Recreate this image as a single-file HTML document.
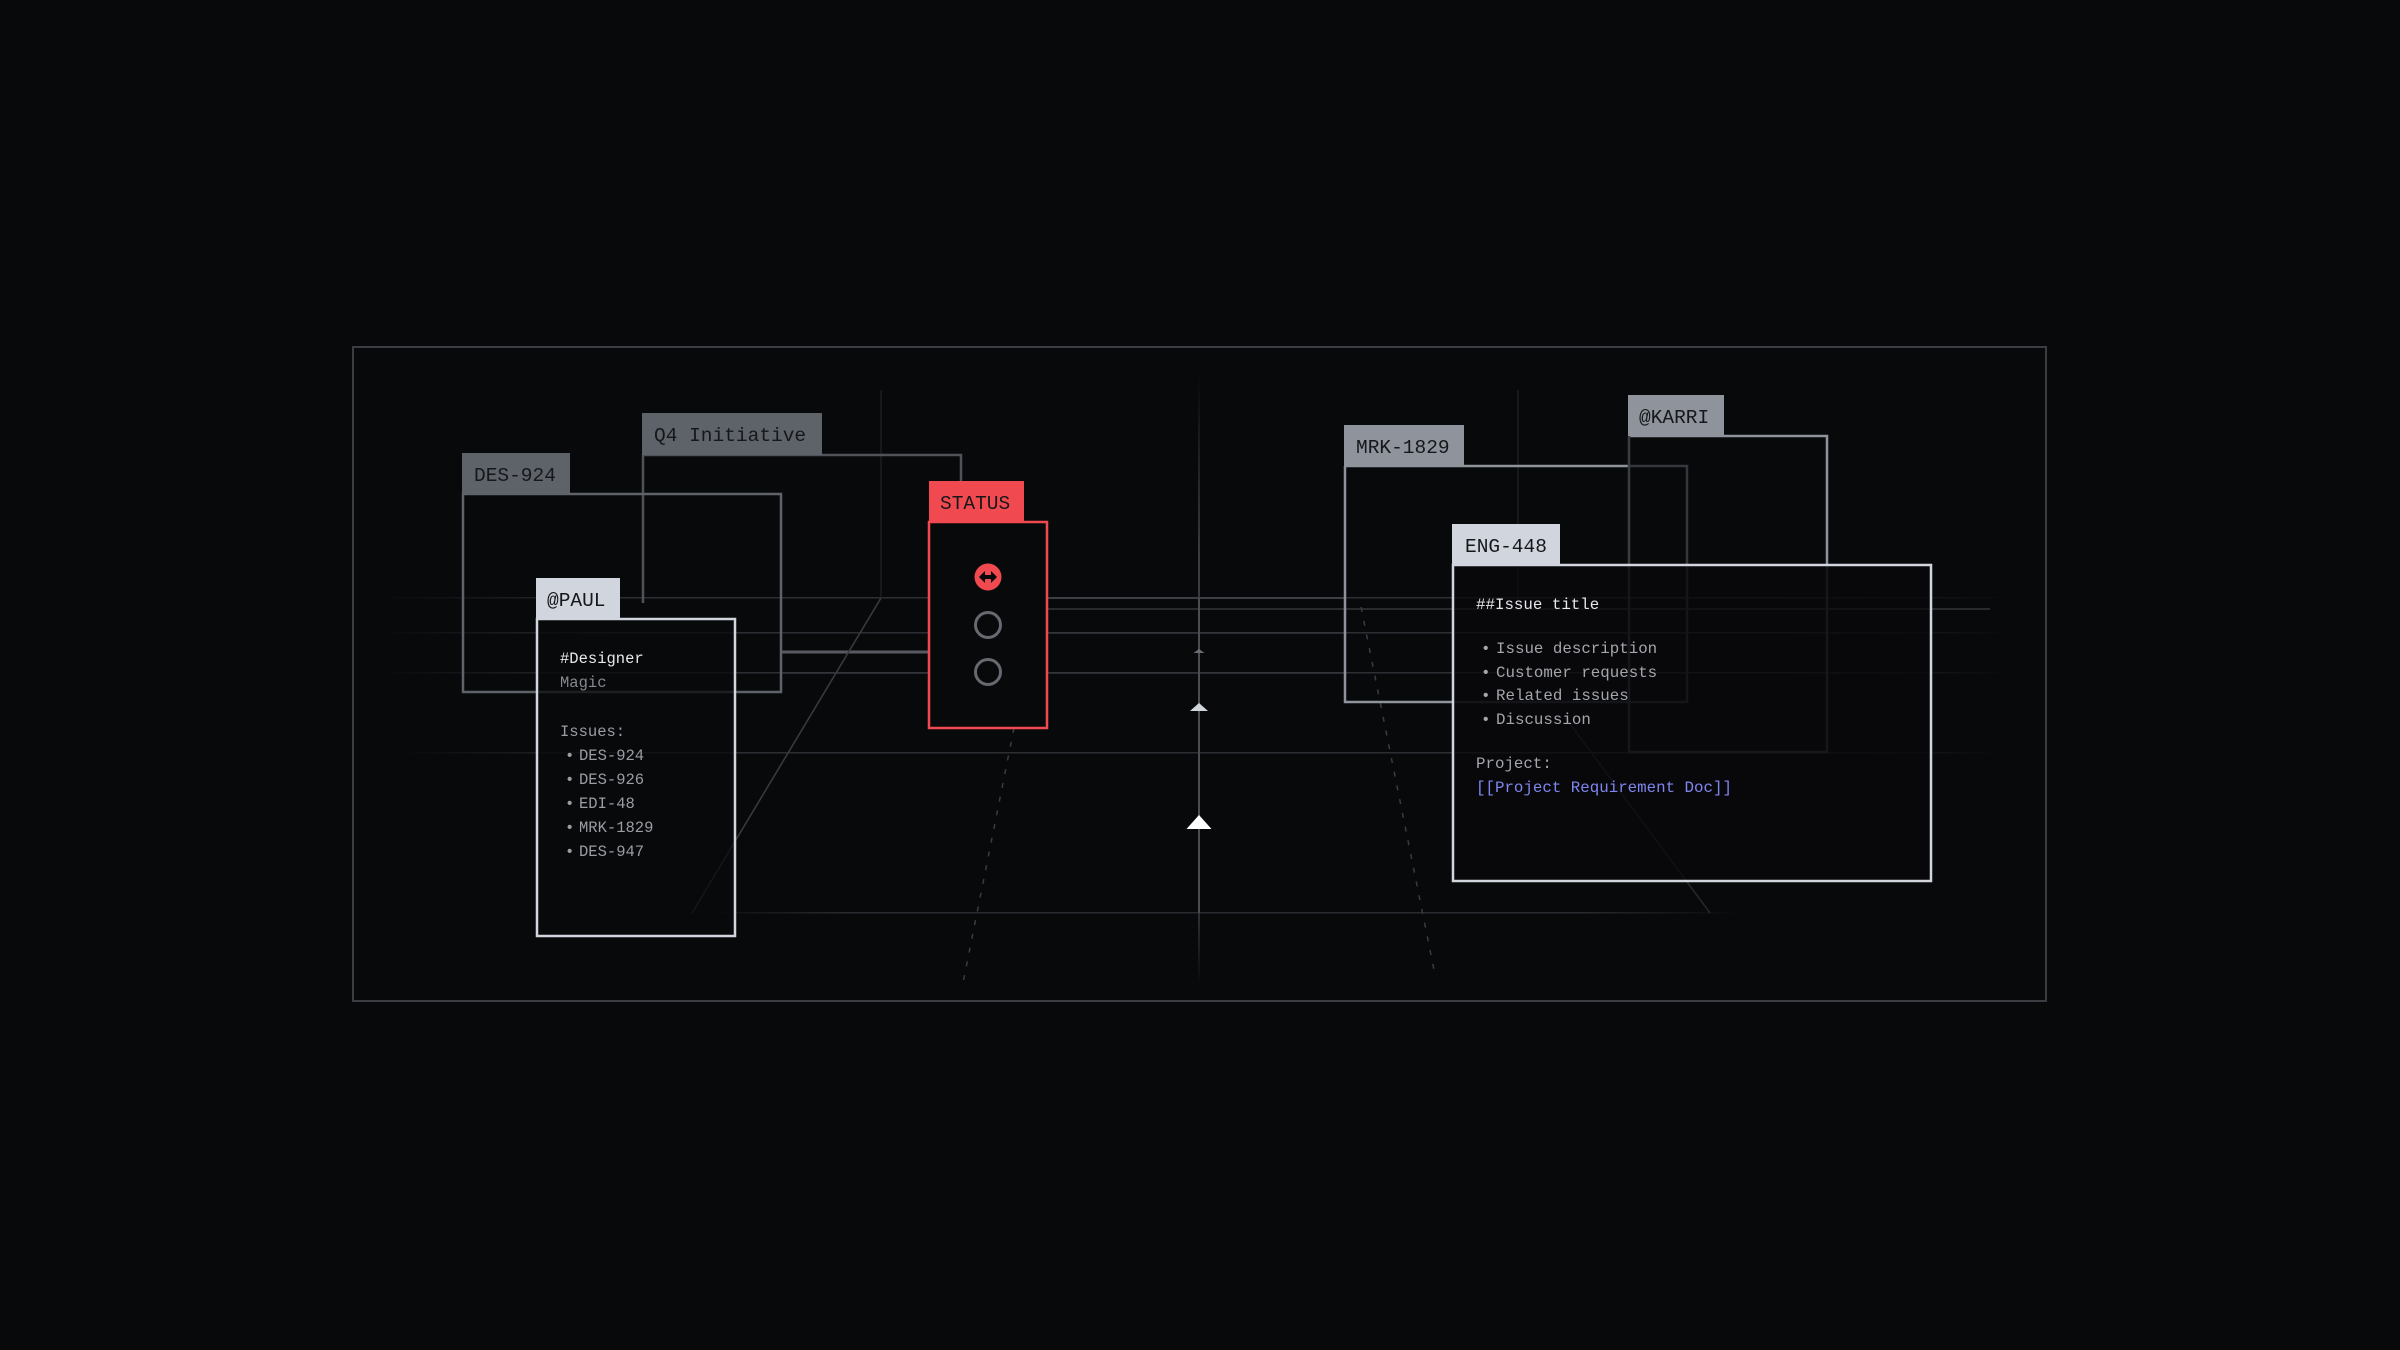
<!DOCTYPE html>
<html><head><meta charset="utf-8"><style>
html,body{margin:0;padding:0;background:#08090b;}
svg{display:block;}
text{font-family:"Liberation Mono",monospace;}
</style></head><body>
<svg width="2400" height="1350" viewBox="0 0 2400 1350" xmlns="http://www.w3.org/2000/svg">
<defs>
<linearGradient id="hf" x1="0" x2="1" y1="0" y2="0">
<stop offset="0" stop-color="#2c2e33" stop-opacity="0"/>
<stop offset="0.15" stop-color="#2c2e33"/>
<stop offset="0.85" stop-color="#2c2e33"/>
<stop offset="1" stop-color="#2c2e33" stop-opacity="0"/>
</linearGradient>
<linearGradient id="vf" x1="0" x2="0" y1="0" y2="1">
<stop offset="0" stop-color="#3a3c41" stop-opacity="0"/>
<stop offset="0.3" stop-color="#3a3c41"/>
<stop offset="0.85" stop-color="#3a3c41"/>
<stop offset="1" stop-color="#3a3c41" stop-opacity="0"/>
</linearGradient>
</defs>
<rect width="2400" height="1350" fill="#08090b"/>
<rect x="353" y="347" width="1693" height="654" fill="none" stroke="#3b3d42" stroke-width="2"/>

<rect x="380" y="597" width="1630" height="1.5" fill="url(#hf)"/>
<rect x="380" y="632" width="1630" height="1.5" fill="url(#hf)"/>
<rect x="380" y="672" width="1630" height="1.5" fill="url(#hf)"/>
<rect x="400" y="752" width="1600" height="1.5" fill="url(#hf)"/>
<rect x="690" y="912" width="1050" height="1.5" fill="url(#hf)" opacity="0.9"/>
<line x1="1047" y1="598" x2="1344" y2="598" stroke="#3c3f44" stroke-width="2"/>
<line x1="1047" y1="609" x2="1990" y2="609" stroke="#33363b" stroke-width="1.5"/>
<line x1="1047" y1="633" x2="1344" y2="633" stroke="#34373c" stroke-width="1.5"/>
<line x1="1047" y1="673" x2="1344" y2="673" stroke="#34373c" stroke-width="1.5"/>
<line x1="781" y1="673" x2="929" y2="673" stroke="#34373c" stroke-width="1.5"/>
<line x1="781" y1="652" x2="929" y2="652" stroke="#575a60" stroke-width="3"/>
<line x1="881" y1="390" x2="881" y2="598" stroke="#1c1e21" stroke-width="1.5"/>
<line x1="1518" y1="390" x2="1518" y2="600" stroke="#1c1e21" stroke-width="1.5"/>
<line x1="881" y1="598" x2="692" y2="913" stroke="#3a3c41" stroke-width="1.5"/>
<line x1="1565" y1="717" x2="1710" y2="913" stroke="#26282c" stroke-width="1.5"/>
<line x1="1014" y1="728" x2="963" y2="983" stroke="#3a3c41" stroke-width="1.5" stroke-dasharray="5 9"/>
<line x1="1361" y1="607" x2="1434" y2="970" stroke="#3a3c41" stroke-width="1.5" stroke-dasharray="5 9"/>
<rect x="1198" y="375" width="2" height="610" fill="url(#vf)"/>
<line x1="1199" y1="598" x2="1199" y2="913" stroke="#4a4d52" stroke-width="2"/>
<polygon points="1193.5,653 1204.5,653 1199,649" fill="#6a6d73"/>
<polygon points="1190,711 1208,711 1199,703" fill="#d0d5de"/>
<polygon points="1186.5,829 1211.5,829 1199,815" fill="#ffffff"/>

<!-- Q4 Initiative -->
<path d="M643 603 V455 H961 V522" fill="none" stroke="#4f5258" stroke-width="2.5"/>
<rect x="642" y="413" width="180" height="42" fill="#5e6269"/>
<text x="654" y="441" font-size="19.5" fill="#16171a">Q4 Initiative</text>

<!-- DES-924 -->
<rect x="463" y="494" width="318" height="198" fill="none" stroke="#5e6269" stroke-width="2.5"/>
<rect x="462" y="453" width="108" height="41" fill="#5e6269"/>
<text x="474" y="481" font-size="19.5" fill="#16171a">DES-924</text>

<!-- STATUS -->
<rect x="929" y="522" width="118" height="206" fill="#08090b" stroke="#f04a50" stroke-width="2.5"/>
<rect x="929" y="481" width="95" height="41" fill="#f04a50"/>
<text x="940" y="509" font-size="19.5" fill="#16171a">STATUS</text>
<circle cx="988" cy="577" r="13.5" fill="#f04a50"/>
<polygon points="979,577 985,571 985,583" fill="#08090b"/>
<polygon points="997,577 991,571 991,583" fill="#08090b"/>
<rect x="984" y="575" width="8" height="4" fill="#08090b"/>
<circle cx="988" cy="625" r="12.5" fill="none" stroke="#66696f" stroke-width="3"/>
<circle cx="988" cy="672" r="12.5" fill="none" stroke="#66696f" stroke-width="3"/>

<!-- @PAUL -->
<rect x="537" y="619" width="198" height="317" fill="#08090b" fill-opacity="0.75" stroke="#d0d5de" stroke-width="2.5"/>
<rect x="536" y="578" width="84" height="41" fill="#d0d5de"/>
<text x="547" y="606" font-size="19.5" fill="#16171a">@PAUL</text>
<g font-size="15.5">
<text x="560" y="663" fill="#e6e8ec">#Designer</text>
<text x="560" y="687" fill="#85888e">Magic</text>
<text x="560" y="736" fill="#9a9da3">Issues:</text>
<g fill="#9a9da3">
<text x="565" y="760">•</text><text x="579" y="760">DES-924</text>
<text x="565" y="784">•</text><text x="579" y="784">DES-926</text>
<text x="565" y="808">•</text><text x="579" y="808">EDI-48</text>
<text x="565" y="832">•</text><text x="579" y="832">MRK-1829</text>
<text x="565" y="856">•</text><text x="579" y="856">DES-947</text>
</g></g>

<!-- MRK-1829 -->
<path d="M1345 466 H1628" stroke="#8e939c" stroke-width="2.5" fill="none"/>
<path d="M1628 466 H1687 V702 H1452" stroke="#34373c" stroke-width="2.5" fill="none"/>
<path d="M1345 466 V702 H1452" stroke="#8e939c" stroke-width="2.5" fill="none"/>
<rect x="1344" y="425" width="120" height="41" fill="#8e939c"/>
<text x="1356" y="453" font-size="19.5" fill="#16171a">MRK-1829</text>

<!-- @KARRI -->
<path d="M1629 436 H1827 V565" stroke="#8e939c" stroke-width="2.5" fill="none"/>
<path d="M1629 436 V752 H1827 V565" stroke="#3a3d42" stroke-width="2.5" fill="none"/>
<rect x="1628" y="395" width="96" height="41" fill="#8e939c"/>
<text x="1639" y="423" font-size="19.5" fill="#16171a">@KARRI</text>

<!-- ENG-448 -->
<rect x="1453" y="565" width="478" height="316" fill="#08090b" fill-opacity="0.72" stroke="#d0d5de" stroke-width="2.5"/>
<rect x="1452" y="524" width="108" height="41" fill="#d0d5de"/>
<text x="1465" y="552" font-size="19.5" fill="#16171a">ENG-448</text>
<g font-size="15.8">
<text x="1476" y="609" fill="#e6e8ec">##Issue title</text>
<g fill="#a3a6ab">
<text x="1481" y="653">•</text><text x="1496" y="653">Issue description</text>
<text x="1481" y="677">•</text><text x="1496" y="677">Customer requests</text>
<text x="1481" y="700">•</text><text x="1496" y="700">Related issues</text>
<text x="1481" y="724">•</text><text x="1496" y="724">Discussion</text>
<text x="1476" y="768">Project:</text>
</g>
<text x="1476" y="792" fill="#7f86f0">[[Project Requirement Doc]]</text>
</g>
</svg>
</body></html>
